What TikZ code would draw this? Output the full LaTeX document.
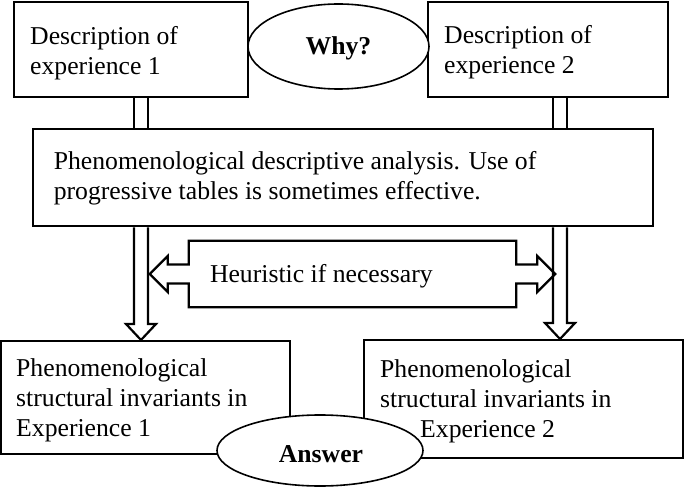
\documentclass[tikz,border=0pt]{standalone}
\usepackage{fontspec}
\setmainfont{Liberation Serif}
\usetikzlibrary{calc,shapes.geometric}
\begin{document}
\begin{tikzpicture}[x=1pt,y=-1pt,
  box/.style={draw, line width=2pt, rectangle, inner sep=0pt},
  txt/.style={font=\fontsize{25.7}{30}\selectfont, inner sep=0pt, anchor=base west},
  btxt/.style={font=\fontsize{25.7}{30}\selectfont\bfseries, inner sep=0pt, anchor=base},
  oval/.style={draw, ellipse, line width=1.6pt, fill=white, inner sep=0pt},
  bar/.style={line width=2pt},
  hollow/.style={draw, line width=2.2pt, line join=miter}
]
\useasboundingbox (0,0) rectangle (685,489);

% boxes
\node[box, minimum width=234pt, minimum height=95pt] (d1) at (131,49.5) {};
\node[box, minimum width=240pt, minimum height=95pt] (d2) at (548,49.5) {};
\node[box, line width=2.8pt, minimum width=620pt, minimum height=97pt] (main) at (343,177.5) {};
\node[rectangle, inner sep=0pt, minimum width=327pt, minimum height=66pt] (hb) at (352.5,274) {};
\node[box, minimum width=289pt, minimum height=113pt] (b1) at (145.5,397.5) {};
\node[box, minimum width=319pt, minimum height=118pt] (b2) at (523.5,399) {};

% texts
\node[txt] (t1) at ($(d1.north west)+(17,43.5)$) {\vtop{\hbox{Description of}\hbox{experience 1}}};
\node[txt] (t2) at ($(d2.north west)+(17,42.5)$) {\vtop{\hbox{Description of}\hbox{experience 2}}};
\node[txt] (tm) at ($(main.north west)+(22,42)$) {\vtop{\hbox{Phenomenological descriptive analysis. Use of}\hbox{progressive tables is sometimes effective.}}};
\node[txt] (th) at ($(hb.north west)+(21,42)$) {Heuristic if necessary};
\node[txt] (tb1) at ($(b1.north west)+(16,36)$) {\vtop{\hbox{Phenomenological}\hbox{structural invariants in}\hbox{Experience 1}}};
\node[txt] (tb2) at ($(b2.north west)+(17,38)$) {\vtop{\hbox{Phenomenological}\hbox{structural invariants in}\hbox{\kern40pt Experience 2}}};

% connectors
\coordinate (L) at (141,0);
\coordinate (R) at (560,0);
\draw[bar] ($(d1.south -| L)+(-7,0)$) -- ($(main.north -| L)+(-7,0)$);
\draw[bar] ($(d1.south -| L)+(7,0)$) -- ($(main.north -| L)+(7,0)$);
\draw[bar] ($(d2.south -| R)+(-7,0)$) -- ($(main.north -| R)+(-7,0)$);
\draw[bar] ($(d2.south -| R)+(7,0)$) -- ($(main.north -| R)+(7,0)$);

\draw[hollow] ($(main.south -| L)+(-7,0)$) -- ($(b1.north -| L)+(-7,-16)$) -- ($(b1.north -| L)+(-15,-16)$) -- (b1.north -| L) -- ($(b1.north -| L)+(15,-16)$) -- ($(b1.north -| L)+(7,-16)$) -- ($(main.south -| L)+(7,0)$);
\draw[hollow] ($(main.south -| R)+(-7,0)$) -- ($(b2.north -| R)+(-7,-16)$) -- ($(b2.north -| R)+(-15,-16)$) -- (b2.north -| R) -- ($(b2.north -| R)+(15,-16)$) -- ($(b2.north -| R)+(7,-16)$) -- ($(main.south -| R)+(7,0)$);

\draw[hollow] (hb.north west) -- (hb.north east)
  -- ($(hb.east)+(0,-9.5)$) -- ($(hb.east)+(21,-9.5)$) -- ($(hb.east)+(21,-18)$)
  -- ($(hb.east)+(39,0)$)
  -- ($(hb.east)+(21,18)$) -- ($(hb.east)+(21,9.5)$) -- ($(hb.east)+(0,9.5)$)
  -- (hb.south east) -- (hb.south west)
  -- ($(hb.west)+(0,9.5)$) -- ($(hb.west)+(-21,9.5)$) -- ($(hb.west)+(-21,18)$)
  -- ($(hb.west)+(-39,0)$)
  -- ($(hb.west)+(-21,-18)$) -- ($(hb.west)+(-21,-9.5)$) -- ($(hb.west)+(0,-9.5)$)
  -- cycle;

% ellipses
\node[oval, minimum width=181pt, minimum height=85pt] (why) at (338.5,46.5) {};
\node[btxt] (whyt) at ($(why.center)+(0,8.5)$) {Why?};
\node[oval, minimum width=206pt, minimum height=71pt] (ans) at (320,450.5) {};
\node[btxt] (anst) at ($(ans.center)+(1,11.5)$) {Answer};
\end{tikzpicture}
\end{document}
